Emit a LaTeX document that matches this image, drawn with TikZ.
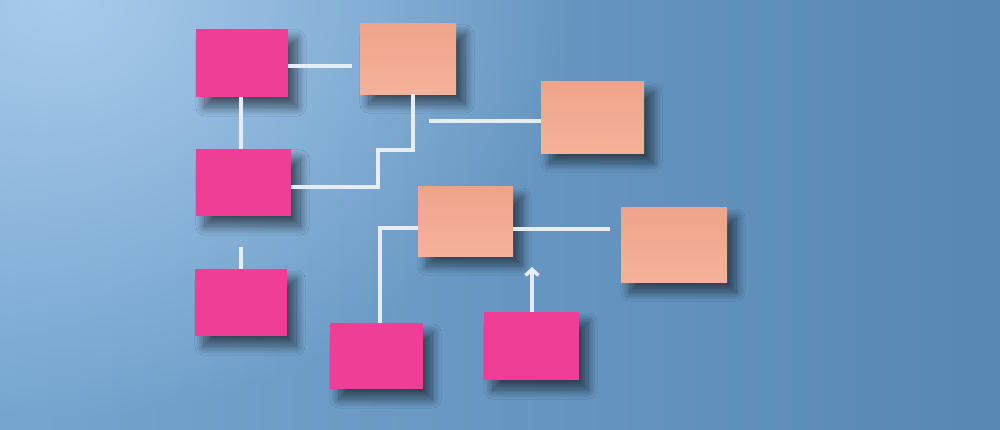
\documentclass[tikz,border=0pt]{standalone}
\usetikzlibrary{shadows.blur,arrows.meta,fadings}
\tikzfading[name=glowfade, inner color=transparent!0, outer color=transparent!100]
\definecolor{bgA}{HTML}{A8CBEC}
\definecolor{bgB}{HTML}{76A6D0}
\definecolor{bgC}{HTML}{5787B3}
\definecolor{pinkc}{HTML}{EE3E95}
\definecolor{peachc}{HTML}{EEA48A}
\definecolor{peachl}{HTML}{F5B29A}
\definecolor{linec}{HTML}{E6EDF5}
\tikzset{
  card/.style={draw=none, inner sep=0pt, outer sep=0pt,
    blur shadow={shadow xshift=0.09cm, shadow yshift=-0.10cm, shadow blur radius=0.09cm, shadow blur steps=24, shadow opacity=55}},
  pinkcard/.style={card, fill=pinkc},
  peachcard/.style={card, top color=peachc, bottom color=peachl},
  wire/.style={draw=linec, line width=0.045cm, line cap=butt}
}
\begin{document}
\begin{tikzpicture}[x=0.01cm,y=-0.01cm]
\useasboundingbox (0,0) rectangle (1000,429);
\shade[left color=bgB, right color=bgC] (0,0) rectangle (1000,429);
\fill[bgA, path fading=glowfade] (60,0) ellipse (520 and 420);

\coordinate (abend) at (352,66);
\coordinate (dstart) at (429,121);
\coordinate (efend) at (610,229);
\coordinate (gstub) at (241,247);
\coordinate (stepA) at (378,150);
\coordinate (arrowtip) at (532,267);

\node[pinkcard, minimum width=0.92cm, minimum height=0.68cm] (A) at (242,63) {};
\node[peachcard, minimum width=0.96cm, minimum height=0.70cm] (B) at (408,59) {};
\node[pinkcard, minimum width=0.95cm, minimum height=0.67cm] (C) at (243.5,182.5) {};
\node[peachcard, minimum width=1.03cm, minimum height=0.71cm] (D) at (592.5,117.5) {};
\node[peachcard, minimum width=0.95cm, minimum height=0.69cm] (E) at (465.5,221.5) {};
\node[peachcard, minimum width=1.06cm, minimum height=0.74cm] (F) at (674,245) {};
\node[pinkcard, minimum width=0.92cm, minimum height=0.67cm] (G) at (241,302.5) {};
\node[pinkcard, minimum width=0.93cm, minimum height=0.66cm] (H) at (376.5,356) {};
\node[pinkcard, minimum width=0.95cm, minimum height=0.68cm] (I) at (531.5,346) {};

\draw[wire] (A.east |- abend) -- (abend);
\draw[wire] ([xshift=-0.01cm]A.south) -- ([xshift=-0.01cm]A.south |- C.north);
\draw[wire] ([yshift=-0.045cm]C.east) -| (stepA) -| ([xshift=0.05cm]B.south);
\draw[wire] (dstart) -- (dstart -| D.west);
\draw[wire] (E.east |- efend) -- (efend);
\draw[wire] (gstub) -- (gstub |- G.north);
\draw[wire] ([xshift=0.035cm]H.north) |- ([yshift=-0.065cm]E.west);
\draw[wire, -{Straight Barb[length=0.06cm, width=0.13cm, line width=0.035cm]}] (I.north -| arrowtip) -- (arrowtip);
\end{tikzpicture}
\end{document}
